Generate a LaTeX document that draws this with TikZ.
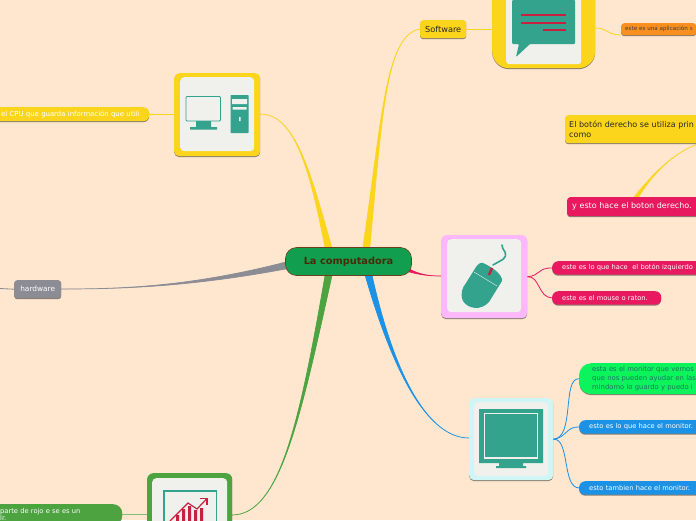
\documentclass[tikz,border=0pt]{standalone}
\usepackage{fontspec}
\setmainfont{DejaVu Sans}
\usepackage{tikz}
\usetikzlibrary{positioning}
\usetikzlibrary{calc}
\usetikzlibrary{shadows}
\definecolor{paper}{HTML}{FEE6CF}
\definecolor{sunny}{HTML}{FBD51C}
\definecolor{rootgreen}{HTML}{119E4F}
\definecolor{rootbrown}{HTML}{6E3E1C}
\definecolor{rootink}{HTML}{4A2A08}
\definecolor{leafgreen}{HTML}{4CA340}
\definecolor{mintgreen}{HTML}{0CF45C}
\definecolor{skyblue}{HTML}{1B92E6}
\definecolor{rosered}{HTML}{E8195E}
\definecolor{slategray}{HTML}{8B8C94}
\definecolor{tangerine}{HTML}{F98F1E}
\definecolor{pinkframe}{HTML}{FDB8FD}
\definecolor{iceframe}{HTML}{CFF6F5}
\definecolor{card}{HTML}{F0F0EC}
\definecolor{teal}{HTML}{33A38E}
\definecolor{crimson}{HTML}{C8203F}
% tapered branch: colour, start, half width, first control, second control, end
\newcommand{\branch}[6]{\filldraw[#1, line width=.7pt] ($(#2)-(#3)$) .. controls (#4) and (#5) .. (#6) .. controls (#5) and (#4) .. ($(#2)+(#3)$) -- cycle;}
\begin{document}
\begin{tikzpicture}[x=1pt, y=-1pt, shd/.style={drop shadow={shadow xshift=0pt, shadow yshift=-1pt, opacity=.45, fill=black}}, topic/.style={shd, rounded corners=3pt, anchor=north west, inner sep=0pt, text width=#1, align=left}, topic/.default=40pt, pic/.style={shd, draw=none, rounded corners=5pt, anchor=north west, inner sep=0pt}, inner/.style={fill=card, rounded corners=4pt, anchor=north west, inner sep=0pt}, link/.style={line width=.8pt}]
\useasboundingbox (0,0) rectangle (696,520);
\clip (0,0) rectangle (696,520);
\fill[paper] (0,0) rectangle (696,520);

% main branches
\coordinate (softIn) at (420,29);
\coordinate (cpuOut) at (260,114);
\coordinate (hardOut) at (61,289);
\coordinate (chartOut) at (232,515);
\coordinate (monIn) at (469,438);
\coordinate (mouseIn) at (441,276);
\coordinate (rootA) at (366,250);
\coordinate (rootB) at (329,250);
\coordinate (rootC) at (288,265);
\coordinate (rootD) at (329,273);
\coordinate (rootE) at (368,273);
\coordinate (rootF) at (408,270);
\coordinate (farTop) at (698,144);
\coordinate (yIn) at (635,199);
\branch{sunny}{rootA}{3.5,0}{382,120}{385,35}{softIn}
\branch{sunny}{rootB}{3.5,0}{310,170}{295,114}{cpuOut}
\branch{slategray}{rootC}{0,3.5}{190,287}{120,289}{hardOut}
\branch{leafgreen}{rootD}{3.5,0}{300,420}{280,515}{chartOut}
\branch{skyblue}{rootE}{3.5,0}{395,380}{430,438}{monIn}
\branch{rosered}{rootF}{0,1.5}{420,275}{430,276}{mouseIn}
\branch{sunny}{yIn}{2.5,0}{650,177}{672,153}{farTop}

% root
\node[fill=rootgreen, draw=rootbrown, semithick, rounded corners=11pt, minimum width=126pt, minimum height=28pt, inner sep=0pt, text=rootink, font=\bfseries\fontsize{9.8}{11}\selectfont] (root) at (348.5,261.5) {La computadora};

% software
\node[topic=46pt, fill=sunny, minimum height=18pt, align=center, text=black!85, font=\fontsize{8.2}{9}\selectfont] (software) at (420,20) {Software};
\node[pic, fill=sunny, rounded corners=17pt, minimum width=103pt, minimum height=90pt] (softPic) at (492,-22) {};
\node[inner, minimum width=75pt, minimum height=70pt, rounded corners=3pt] (softCard) at (506,-6) {};
\fill[teal, rounded corners=1pt] (512,0) -- (575,0) -- (575,44) -- (530,44) -- (516,57) -- (519,44) -- (512,44) -- cycle;
\draw[crimson, line width=2pt] (521,15) -- (566,15) (521,22.5) -- (566,22.5) (543,30) -- (566,30);
\node[topic=75pt, fill=tangerine, minimum height=12pt, text=black!75, font=\fontsize{5.6}{6}\selectfont] (softNote) at (621,23) {\hspace*{4pt}este es una aplicación s};
\draw[sunny, link] (software.east) -- (softPic.west |- software.east);
\draw[sunny, link] (595,28) .. controls (608,28) and (607,35) .. (621,35);

% mouse part
\node[topic=200pt, fill=sunny, text=black!85, minimum height=28pt, font=\fontsize{8}{10}\selectfont] (rightUse) at (565,115) {\hspace*{4pt}El botón derecho se utiliza prin\\\hspace*{4pt}como};
\node[topic=140pt, fill=rosered, minimum height=19pt, text=white, font=\fontsize{8}{9}\selectfont] (rightDo) at (567,197) {\hspace*{5pt}y esto hace el boton derecho.};
\node[pic, fill=pinkframe, minimum width=86pt, minimum height=83pt] (mousePic) at (441,235) {};
\node[inner, minimum width=74pt, minimum height=73pt] (mouseCard) at (447,239) {};
\fill[teal] (483,263) .. controls (490,266) and (503,274) .. (502,281) -- (489,302) .. controls (481,311) and (468,309) .. (463,301) .. controls (460,294) and (462,288) .. (466,283) -- (476,267) .. controls (478,264) and (481,262) .. (483,263) -- cycle;
\draw[card, thin] (474,272) -- (497,286);
\draw[teal, line width=1.6pt, line cap=round] (493,265) .. controls (503,259) and (507,259) .. (505,252) .. controls (503,249) and (502,247) .. (502,245);
\draw[crimson, line width=2.4pt] (492,268) -- (489,275);
\node[topic=190pt, fill=rosered, rounded corners=6pt, minimum height=13.5pt, text=white, font=\fontsize{6.7}{7}\selectfont] (mouseLeft) at (552,261) {\hspace*{10pt}este es lo que hace\ \ el botón izquierdo};
\node[topic=109pt, fill=rosered, rounded corners=6pt, minimum height=13.5pt, text=white, font=\fontsize{6.7}{7}\selectfont] (mouseName) at (552,291) {\hspace*{10pt}este es el mouse o raton.};
\draw[rosered, link] (mousePic.east) .. controls (540,276) and (538,267.5) .. (mouseLeft.west);
\draw[rosered, link] (mousePic.east) .. controls (540,276) and (538,297.5) .. (mouseName.west);

% monitor part
\node[pic, fill=iceframe, minimum width=84pt, minimum height=82pt] (monPic) at (469,398) {};
\node[inner, minimum width=74pt, minimum height=74pt] (monCard) at (474,402) {};
\fill[teal] (479,409) rectangle (543,463) (499,463) rectangle (523,466) (496,466) rectangle (526,468);
\draw[card, line width=1.3pt] (484.5,413.5) rectangle (537.5,458);
\node[topic=190pt, fill=mintgreen, rounded corners=12pt, minimum height=31pt, text=teal!70!black, font=\fontsize{6.8}{8.6}\selectfont] (monSee) at (579,363) {\hspace*{13pt}esta es el monitor que vemos\\\hspace*{13pt}que nos pueden ayudar en las\\\hspace*{13pt}mindomo lo guardo y puedo i};
\node[topic=190pt, fill=skyblue, rounded corners=6pt, minimum height=13.5pt, text=white, font=\fontsize{6.7}{7}\selectfont] (monDo) at (579,420) {\hspace*{10pt}esto es lo que hace el monitor.};
\node[topic=190pt, fill=skyblue, rounded corners=6pt, minimum height=13.5pt, text=white, font=\fontsize{6.7}{7}\selectfont] (monAlso) at (579,481) {\hspace*{10pt}esto tambien hace el monitor.};
\draw[skyblue, link] (monPic.east) .. controls (575,438) and (562,378) .. (monSee.west);
\draw[skyblue, link] (monPic.east) .. controls (566,438) and (566,426.5) .. (monDo.west);
\draw[skyblue, link] (monPic.east) .. controls (570,438) and (562,487.5) .. (monAlso.west);

% cpu part
\node[pic, fill=sunny, minimum width=86pt, minimum height=83pt] (cpuPic) at (174,73) {};
\node[inner, minimum width=74pt, minimum height=74pt] (cpuCard) at (180,77) {};
\draw[teal, line width=.9pt, fill=card, rounded corners=1pt] (186,96.5) rectangle (220.5,121);
\fill[teal] (196,121) rectangle (211,127) (190,127) rectangle (217,129.5);
\fill[teal, rounded corners=.6pt] (230.5,95) rectangle (248.5,133);
\fill[card] (232,99) rectangle (247,104) (232.5,107) rectangle (246.5,109.5) (239,117) rectangle (240.5,121);
\node[topic=180pt, fill=sunny, rounded corners=6pt, minimum height=14pt, text=white, align=right, font=\fontsize{6.9}{7}\selectfont] (cpuNote) at (-31,107) {el CPU que guarda información que utili\hspace*{10pt}};
\draw[sunny, link] (cpuNote.east) -- (cpuPic.west |- cpuNote.east);

% hardware
\node[topic=47pt, fill=slategray, minimum height=18pt, text=white, align=center, font=\fontsize{7.4}{8}\selectfont] (hardware) at (14,280) {hardware};
\coordinate (hardFar) at (0,288.5);
\draw[slategray, link] (hardFar) -- (hardware.west);

% chart part
\node[pic, fill=leafgreen, minimum width=85pt, minimum height=70pt, rounded corners=6pt] (chartPic) at (147,473) {};
\node[inner, minimum width=75pt, minimum height=60pt] (chartCard) at (152,478) {};
\draw[teal, line width=1.4pt] (164,491) rectangle (216.5,540);
\draw[crimson, line width=1.2pt] (170,521) -- (188,503) -- (197,509) -- (207,498.5);
\draw[crimson, line width=1.2pt] (200,498.5) -- (207,498.5) -- (207,505);
\fill[crimson] (176,515) rectangle (179,525) (182,509) rectangle (185,525) (188,506) rectangle (191,525) (194,510) rectangle (197,525) (200,508) rectangle (203,525);
\node[topic=150pt, fill=leafgreen, rounded corners=9pt, minimum height=20pt, text=white, font=\fontsize{6.7}{7}\selectfont] (chartNote) at (-28,504) {\hspace*{28pt}parte de rojo e se es un\\\hspace*{28pt}lr.};
\draw[leafgreen!70, link] (chartNote.east) -- (chartPic.west |- chartNote.east);
\end{tikzpicture}
\end{document}
